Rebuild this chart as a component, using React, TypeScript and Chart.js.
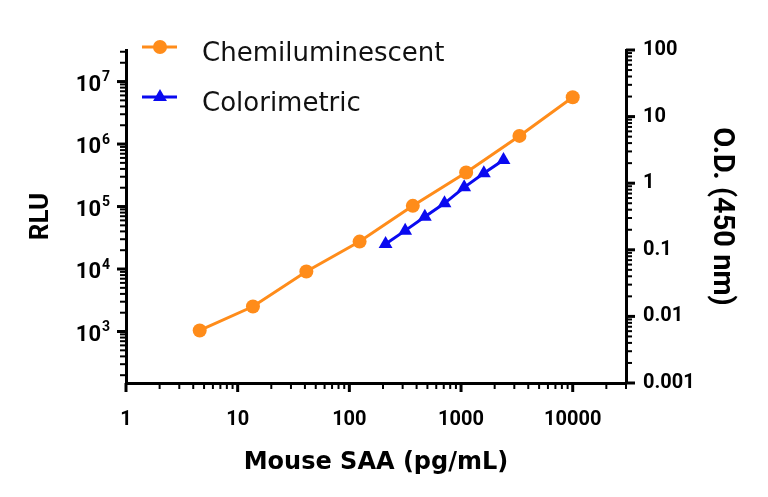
import React, { useEffect, useRef } from 'react';
import { Chart, registerables } from 'chart.js';

Chart.register(...registerables);

// ---- data ----
const CHEMI_CONC = [4.57, 13.7, 41.2, 123.5, 370, 1111, 3333, 10000];
const CHEMI_RLU = [1040, 2510, 9120, 27500, 102600, 350000, 1350000, 5600000];
const COLOR_CONC = [211, 316, 474, 711, 1067, 1600, 2400];
const COLOR_OD = [0.122, 0.194, 0.314, 0.499, 0.867, 1.41, 2.23];

const SERIES_NAMES = ['Chemiluminescent', 'Colorimetric'];

// ---- axes ----
const X_TICK_LABELS = ['1', '10', '100', '1000', '10000'];
const Y_TICK_EXPONENTS = ['3', '4', '5', '6', '7'];
const Y2_TICK_LABELS = ['0.001', '0.01', '0.1', '1', '10', '100'];
const X_MIN = 1;
const X_MAX = 30000;
const Y_MIN = 150;
const Y_MAX = 3.2e7;
const Y2_MIN = 0.001;
const Y2_MAX = 100;

const ORANGE = '#FF8C1A';
const BLUE = '#0A0AF0';
const TICK_FONT = 'Roboto, "Liberation Sans", Arial, sans-serif';

function logTicks(min: number, max: number) {
  const out: { value: number; major: boolean }[] = [];
  const e0 = Math.floor(Math.log10(min));
  const e1 = Math.ceil(Math.log10(max));
  for (let e = e0; e <= e1; e++) {
    for (let m = 1; m <= 9; m++) {
      const v = m * Math.pow(10, e);
      if (v >= min * 0.9999 && v <= max * 1.0001) out.push({ value: v, major: m === 1 });
    }
  }
  return out;
}

function labelFor(list: string[], value: number) {
  const hit = list.find((l) => Math.abs(Number(l) - value) <= 1e-9 * Math.max(1, value));
  return hit ?? '';
}

const axisPlugin = {
  id: 'customAxes',
  afterDraw(chart: any) {
    const ctx = chart.ctx as CanvasRenderingContext2D;
    const { x, y, y2 } = chart.scales;
    ctx.save();
    ctx.strokeStyle = '#000';
    ctx.lineCap = 'butt';
    for (const t of x.ticks) {
      const px = x.getPixelForValue(t.value);
      ctx.lineWidth = t.major ? 3 : 2;
      ctx.beginPath();
      ctx.moveTo(px, x.top);
      ctx.lineTo(px, x.top + (t.major ? 9 : 6));
      ctx.stroke();
    }
    for (const t of y.ticks) {
      const py = y.getPixelForValue(t.value);
      ctx.lineWidth = t.major ? 3 : 2;
      ctx.beginPath();
      ctx.moveTo(y.right, py);
      ctx.lineTo(y.right - (t.major ? 9 : 6), py);
      ctx.stroke();
    }
    for (const t of y2.ticks) {
      const py = y2.getPixelForValue(t.value);
      ctx.lineWidth = t.major ? 3 : 2;
      ctx.beginPath();
      ctx.moveTo(y2.left, py);
      ctx.lineTo(y2.left + (t.major ? 9 : 6), py);
      ctx.stroke();
    }
    ctx.fillStyle = '#000';
    for (const e of Y_TICK_EXPONENTS) {
      const py = y.getPixelForValue(Math.pow(10, Number(e)));
      const xr = y.right - 25;
      ctx.font = `bold 22px ${TICK_FONT}`;
      ctx.textAlign = 'right';
      ctx.textBaseline = 'alphabetic';
      ctx.fillText('10', xr, py + 9);
      ctx.font = `bold 14px ${TICK_FONT}`;
      ctx.textAlign = 'left';
      ctx.fillText(e, xr + 1, py - 0.5);
    }
    const ds = chart.data.datasets;
    const rows = [39, 89];
    ds.forEach((d: any, i: number) => {
      const cy = rows[i];
      ctx.strokeStyle = d.borderColor;
      ctx.lineWidth = 3;
      ctx.beginPath();
      ctx.moveTo(134, cy);
      ctx.lineTo(169, cy);
      ctx.stroke();
      ctx.fillStyle = d.backgroundColor;
      ctx.beginPath();
      if (d.pointStyle === 'triangle') {
        const r = d.pointRadius;
        ctx.moveTo(152, cy - r);
        ctx.lineTo(152 + r * Math.sin((2 * Math.PI) / 3), cy + r / 2);
        ctx.lineTo(152 - r * Math.sin((2 * Math.PI) / 3), cy + r / 2);
        ctx.closePath();
      } else {
        ctx.arc(152, cy, d.pointRadius, 0, Math.PI * 2);
      }
      ctx.fill();
      ctx.fillStyle = '#111';
      ctx.font = '26px "DejaVu Sans", sans-serif';
      ctx.textAlign = 'left';
      ctx.textBaseline = 'alphabetic';
      ctx.fillText(d.label, 194, cy + 13.5);
    });
    ctx.restore();
  },
};

export default function App() {
  const ref = useRef<HTMLCanvasElement | null>(null);
  useEffect(() => {
    if (!ref.current) return;
    const chart = new Chart(ref.current, {
      type: 'line',
      data: {
        datasets: [
          {
            label: SERIES_NAMES[0],
            data: CHEMI_CONC.map((c, i) => ({ x: c, y: CHEMI_RLU[i] })),
            yAxisID: 'y',
            borderColor: ORANGE,
            backgroundColor: ORANGE,
            borderWidth: 3,
            pointStyle: 'circle',
            pointRadius: 7,
            pointBorderWidth: 0,
            tension: 0,
          },
          {
            label: SERIES_NAMES[1],
            data: COLOR_CONC.map((c, i) => ({ x: c, y: COLOR_OD[i] })),
            yAxisID: 'y2',
            borderColor: BLUE,
            backgroundColor: BLUE,
            borderWidth: 3,
            pointStyle: 'triangle',
            pointRadius: 8,
            pointBorderWidth: 0,
            tension: 0,
          },
        ],
      },
      options: {
        animation: false,
        responsive: false,
        layout: { padding: { top: 42, left: 0, right: 0, bottom: 0 } },
        plugins: { legend: { display: false }, tooltip: { enabled: false } },
        scales: {
          x: {
            type: 'logarithmic',
            position: 'bottom',
            min: X_MIN,
            max: X_MAX,
            afterBuildTicks: (s: any) => {
              s.ticks = logTicks(X_MIN, X_MAX);
            },
            afterFit: (s: any) => {
              s.height = 106;
            },
            grid: { display: false, drawTicks: false },
            border: { display: true, color: '#000', width: 3 },
            ticks: {
              autoSkip: false,
              maxRotation: 0,
              padding: 27,
              color: '#000',
              font: { family: TICK_FONT, size: 20, weight: 'bold', lineHeight: 1 },
              callback: (v: any) => labelFor(X_TICK_LABELS, Number(v)),
            },
            title: {
              display: true,
              text: 'Mouse SAA (pg/mL)',
              color: '#000',
              font: { family: '"DejaVu Sans", sans-serif', size: 24, weight: 'bold', lineHeight: 1 },
              padding: { top: 0, bottom: 14 },
            },
          },
          y: {
            type: 'logarithmic',
            position: 'left',
            min: Y_MIN,
            max: Y_MAX,
            afterBuildTicks: (s: any) => {
              s.ticks = logTicks(Y_MIN, Y_MAX);
            },
            afterFit: (s: any) => {
              s.width = 118;
            },
            grid: { display: false, drawTicks: false },
            border: { display: true, color: '#000', width: 3 },
            ticks: { display: false, autoSkip: false },
            title: {
              display: true,
              text: 'RLU',
              color: '#000',
              font: { family: TICK_FONT, size: 26, weight: 'bold', lineHeight: 1 },
              padding: { top: 20, bottom: 0 },
            },
          },
          y2: {
            type: 'logarithmic',
            position: 'right',
            min: Y2_MIN,
            max: Y2_MAX,
            afterBuildTicks: (s: any) => {
              s.ticks = logTicks(Y2_MIN, Y2_MAX);
            },
            afterFit: (s: any) => {
              s.width = 134;
            },
            grid: { display: false, drawTicks: false },
            border: { display: true, color: '#000', width: 3 },
            ticks: {
              autoSkip: false,
              padding: 17,
              color: '#000',
              font: { family: TICK_FONT, size: 20, weight: 'bold', lineHeight: 1 },
              callback: (v: any) => labelFor(Y2_TICK_LABELS, Number(v)),
            },
            title: {
              display: true,
              text: 'O.D. (450 nm)',
              color: '#000',
              font: { family: TICK_FONT, size: 29, weight: 'bold', lineHeight: 1 },
              padding: { top: 24, bottom: 0 },
            },
          },
        },
      } as any,
      plugins: [axisPlugin],
    });
    return () => chart.destroy();
  }, []);
  return <canvas ref={ref} width={752} height={481} style={{ display: 'block' }} />;
}
